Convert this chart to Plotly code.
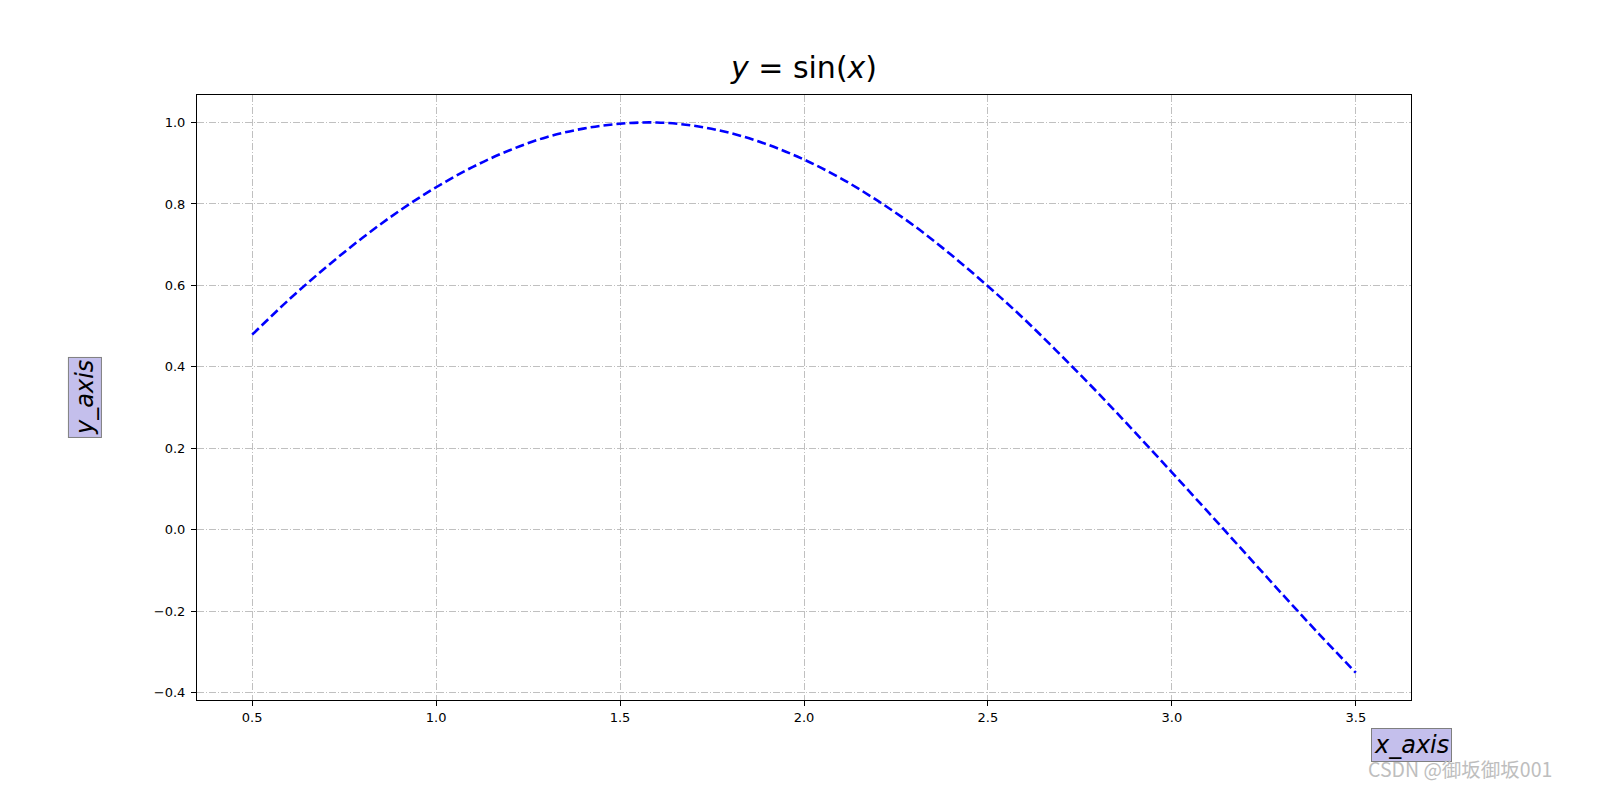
import plotly.graph_objects as go

# values, every 0.1 on x
x_vals = [0.5, 0.6, 0.7, 0.8, 0.9, 1.0, 1.1, 1.2, 1.3, 1.4, 1.5, 1.6, 1.7, 1.8,
          1.9, 2.0, 2.1, 2.2, 2.3, 2.4, 2.5, 2.6, 2.7, 2.8, 2.9, 3.0, 3.1, 3.2,
          3.3, 3.4, 3.5]
y_vals = [0.479, 0.565, 0.644, 0.717, 0.783, 0.841, 0.891, 0.932, 0.964, 0.985,
          0.997, 1.000, 0.992, 0.974, 0.946, 0.909, 0.863, 0.808, 0.746, 0.675,
          0.598, 0.516, 0.427, 0.335, 0.239, 0.141, 0.042, -0.058, -0.158,
          -0.256, -0.351]

x_ticks = [0.5, 1.0, 1.5, 2.0, 2.5, 3.0, 3.5]
y_ticks = [-0.4, -0.2, 0.0, 0.2, 0.4, 0.6, 0.8, 1.0]
y_tick_text = ["\u22120.4", "\u22120.2", "0.0", "0.2", "0.4", "0.6", "0.8", "1.0"]

font = "DejaVu Sans"
box_fill = "#c4bfec"

# page has an 8px body margin, so the figure is 1584x786 inside the window
W, H = 1584, 786

fig = go.Figure()

fig.add_trace(go.Scatter(
    x=x_vals,
    y=y_vals,
    mode="lines",
    line=dict(color="#0000ff", width=2.6, dash="9px,4px", shape="spline"),
    showlegend=False,
))

axis_common = dict(
    showline=True, linecolor="black", linewidth=1, mirror=True,
    ticks="outside", ticklen=5, tickcolor="black", tickwidth=1,
    showgrid=True, gridcolor="#c0c0c0", gridwidth=1,
    griddash="7px,2px,1px,2px",
    zeroline=False,
    tickfont=dict(family=font, size=13, color="black"),
)

fig.update_layout(
    width=W,
    height=H,
    paper_bgcolor="white",
    plot_bgcolor="white",
    margin=dict(l=189, r=181, t=87, b=94),
    font=dict(family=font),
    title=dict(
        text="<i>y</i> = sin(<i>x</i>)",
        x=796 / W, xanchor="center",
        y=1 - 59 / H, yanchor="middle",
        font=dict(family=font, size=30, color="black"),
    ),
    xaxis=dict(range=[0.35, 3.65], tickvals=x_ticks,
               ticktext=[f"{v:.1f}" for v in x_ticks], **axis_common),
    yaxis=dict(range=[-0.418, 1.0675], tickvals=y_ticks,
               ticktext=y_tick_text, ticklabelstandoff=3, **axis_common),
)

# boxed axis labels
fig.add_annotation(
    text="<i>y_axis</i>", textangle=-90,
    xref="paper", yref="paper", x=-0.0923, y=0.5008,
    xanchor="center", yanchor="middle", showarrow=False,
    font=dict(family=font, size=24, color="black"),
    bgcolor=box_fill, bordercolor="#7f7f7f", borderwidth=1, borderpad=2,
)
fig.add_annotation(
    text="<i>x_axis</i>",
    xref="paper", yref="paper", x=1.0004, y=-0.0744,
    xanchor="center", yanchor="middle", showarrow=False,
    font=dict(family=font, size=24, color="black"),
    bgcolor=box_fill, bordercolor="#7f7f7f", borderwidth=1, borderpad=2,
)

# watermark
fig.add_annotation(
    text="CSDN @御坂御坂001",
    xref="paper", yref="paper", x=(1554 - 197) / 1214, y=(700 - 768) / 605,
    xanchor="right", yanchor="middle", showarrow=False,
    font=dict(family="Noto Sans CJK SC", size=19.5, color="#bebebe"),
)

fig.write_html("out.html")
